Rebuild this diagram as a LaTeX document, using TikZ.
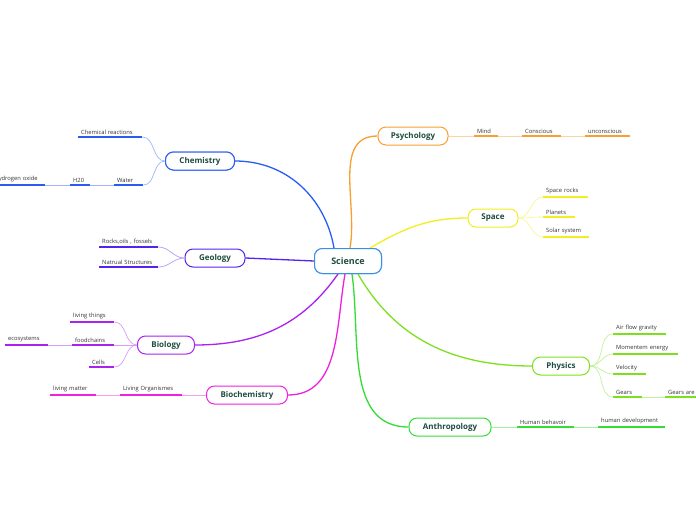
\documentclass[tikz,border=0pt]{standalone}
\usepackage{fontspec}
\setmainfont{Open Sans}
\definecolor{cSci}{HTML}{3A8EE6}
\definecolor{cChem}{HTML}{2A5CF5}
\definecolor{cGeo}{HTML}{5522EE}
\definecolor{cBio}{HTML}{AA22EE}
\definecolor{cBioc}{HTML}{EE22DD}
\definecolor{cPsy}{HTML}{F7A030}
\definecolor{cSpa}{HTML}{F0F020}
\definecolor{cPhy}{HTML}{7DE01F}
\definecolor{cAnt}{HTML}{33DD33}
\definecolor{txt}{HTML}{1F4D40}
\tikzset{
  x=1pt,y=-1pt,
  topic/.style={draw=#1,line width=1pt,rounded corners=8pt,fill=white,text=txt,font=\bfseries\fontsize{8}{9}\selectfont,minimum height=18pt,inner xsep=0pt},
  leafn/.style={anchor=south west,inner xsep=3pt,inner ysep=2.5pt,align=left,font=\fontsize{5.8}{6.8}\selectfont,text=black!80},
  uline/.style={line width=1.6pt,#1},
  conn/.style={line width=1.3pt,#1},
  lconn/.style={line width=0.7pt,#1!45},
}
\newcommand{\leaf}[6]{%
  \node[leafn,text width={#3-#2-6pt}] (#1) at (#2,#4) {#5};
  \draw[uline=#6] (#1.south west) -- (#1.south east);}
\begin{document}
\begin{tikzpicture}
\useasboundingbox[fill=white] (0,0) rectangle (696,520);
\node[topic=cSci,minimum width=67pt,font=\bfseries\fontsize{9}{10}\selectfont,minimum height=25pt] (sci) at (348,261) {Science};
\node[topic=cPsy,minimum width=70pt] (psy) at (413,136) {Psychology};
\node[topic=cSpa,minimum width=50pt] (spa) at (493,218) {Space};
\node[topic=cPhy,minimum width=57pt] (phy) at (561,366) {Physics};
\node[topic=cAnt,minimum width=82pt] (ant) at (450,427) {Anthropology};
\node[topic=cBioc,minimum width=81pt] (bioc) at (247,395) {Biochemistry};
\node[topic=cBio,minimum width=57pt] (bio) at (166,345) {Biology};
\node[topic=cGeo,minimum width=60pt] (geo) at (215,258) {Geology};
\node[topic=cChem,minimum width=69pt] (chem) at (200,161) {Chemistry};
% main connectors
\draw[conn=cChem] (chem.east) to[out=0,in=100] ([xshift=-14pt]sci.north);
\draw[conn=cPsy] ([xshift=2pt]sci.north) to[out=80,in=180] (psy.west);
\draw[conn=cSpa] ([xshift=22pt]sci.north) to[out=30,in=180] (spa.west);
\draw[conn=cPhy] ([xshift=10pt]sci.south) to[out=-60,in=180] (phy.west);
\draw[conn=cAnt] ([xshift=4pt]sci.south) to[out=-82,in=180] (ant.west);
\draw[conn=cBioc] ([xshift=-3pt]sci.south) to[out=-100,in=0] (bioc.east);
\draw[conn=cBio] ([xshift=-10pt]sci.south) to[out=-125,in=0] (bio.east);
\draw[conn=cGeo] (sci.west) -- (geo.east);
% redraw topics on top
\node[topic=cSci,minimum width=67pt,font=\bfseries\fontsize{9}{10}\selectfont,minimum height=25pt] at (348,261) {Science};
\node[topic=cChem,minimum width=69pt] at (200,161) {Chemistry};
% leaves
\leaf{cr}{78}{142}{137}{Chemical reactions}{cChem}
\leaf{wa}{114}{143}{185}{Water}{cChem}
\leaf{h2}{70}{90}{185}{H20}{cChem}
\leaf{ho}{-8}{45}{185}{hydrogen oxide}{cChem}
\draw[lconn=cChem] (chem.west) to[out=180,in=0] (cr.south east);
\draw[lconn=cChem] (chem.west) to[out=180,in=0] (wa.south east);
\draw[lconn=cChem] (wa.south west) -- (h2.south east);
\draw[lconn=cChem] (h2.south west) -- (ho.south east);
\leaf{ro}{99}{158}{247}{Rocks,oils , fossels}{cGeo}
\leaf{ns}{99}{158}{267}{Natrual Structures}{cGeo}
\draw[lconn=cGeo] (geo.west) to[out=180,in=0] (ro.south east);
\draw[lconn=cGeo] (geo.west) to[out=180,in=0] (ns.south east);
\leaf{lt}{70}{114}{322}{living things}{cBio}
\leaf{fc}{72}{114}{345}{foodchains}{cBio}
\leaf{ec}{5}{48}{345}{ecosystems}{cBio}
\leaf{ce}{89}{114}{367}{Cells}{cBio}
\draw[lconn=cBio] (bio.west) to[out=180,in=0] (lt.south east);
\draw[lconn=cBio] (bio.west) -- (fc.south east);
\draw[lconn=cBio] (bio.west) to[out=180,in=0] (ce.south east);
\draw[lconn=cBio] (fc.south west) -- (ec.south east);
\leaf{lo}{120}{182}{395}{Living Organismes}{cBioc}
\leaf{lm}{50}{96}{395}{living matter}{cBioc}
\draw[lconn=cBioc] (bioc.west) -- (lo.south east);
\draw[lconn=cBioc] (lo.south west) -- (lm.south east);
\leaf{mi}{474}{498}{136}{Mind}{cPsy}
\leaf{co}{522}{561}{136}{Conscious}{cPsy}
\leaf{un}{585}{630}{136}{unconscious}{cPsy}
\draw[lconn=cPsy] (psy.east) -- (mi.south west);
\draw[lconn=cPsy] (mi.south east) -- (co.south west);
\draw[lconn=cPsy] (co.south east) -- (un.south west);
\leaf{sr}{543}{588}{197}{Space rocks}{cSpa}
\leaf{pl}{543}{575}{217}{Planets}{cSpa}
\leaf{ss}{543}{589}{237}{Solar system}{cSpa}
\draw[lconn=cSpa] (spa.east) to[out=0,in=180] (sr.south west);
\draw[lconn=cSpa] (spa.east) to[out=0,in=180] (pl.south west);
\draw[lconn=cSpa] (spa.east) to[out=0,in=180] (ss.south west);
\leaf{af}{613}{666}{334}{Air flow gravity}{cPhy}
\leaf{me}{613}{678}{354}{Momentem energy}{cPhy}
\leaf{ve}{613}{646}{374}{Velocity}{cPhy}
\leaf{ge}{613}{642}{397}{Gears}{cPhy}
\leaf{ga}{665}{720}{397}{Gears are}{cPhy}
\draw[lconn=cPhy] (phy.east) to[out=0,in=180] (af.south west);
\draw[lconn=cPhy] (phy.east) to[out=0,in=180] (me.south west);
\draw[lconn=cPhy] (phy.east) to[out=0,in=180] (ve.south west);
\draw[lconn=cPhy] (phy.east) to[out=0,in=180] (ge.south west);
\draw[lconn=cPhy] (ge.south east) -- (ga.south west);
\leaf{hb}{517}{574}{427}{Human behavoir}{cAnt}
\leaf{hd}{598}{665}{427}{human development}{cAnt}
\draw[lconn=cAnt] (ant.east) -- (hb.south west);
\draw[lconn=cAnt] (hb.south east) -- (hd.south west);
\end{tikzpicture}
\end{document}
